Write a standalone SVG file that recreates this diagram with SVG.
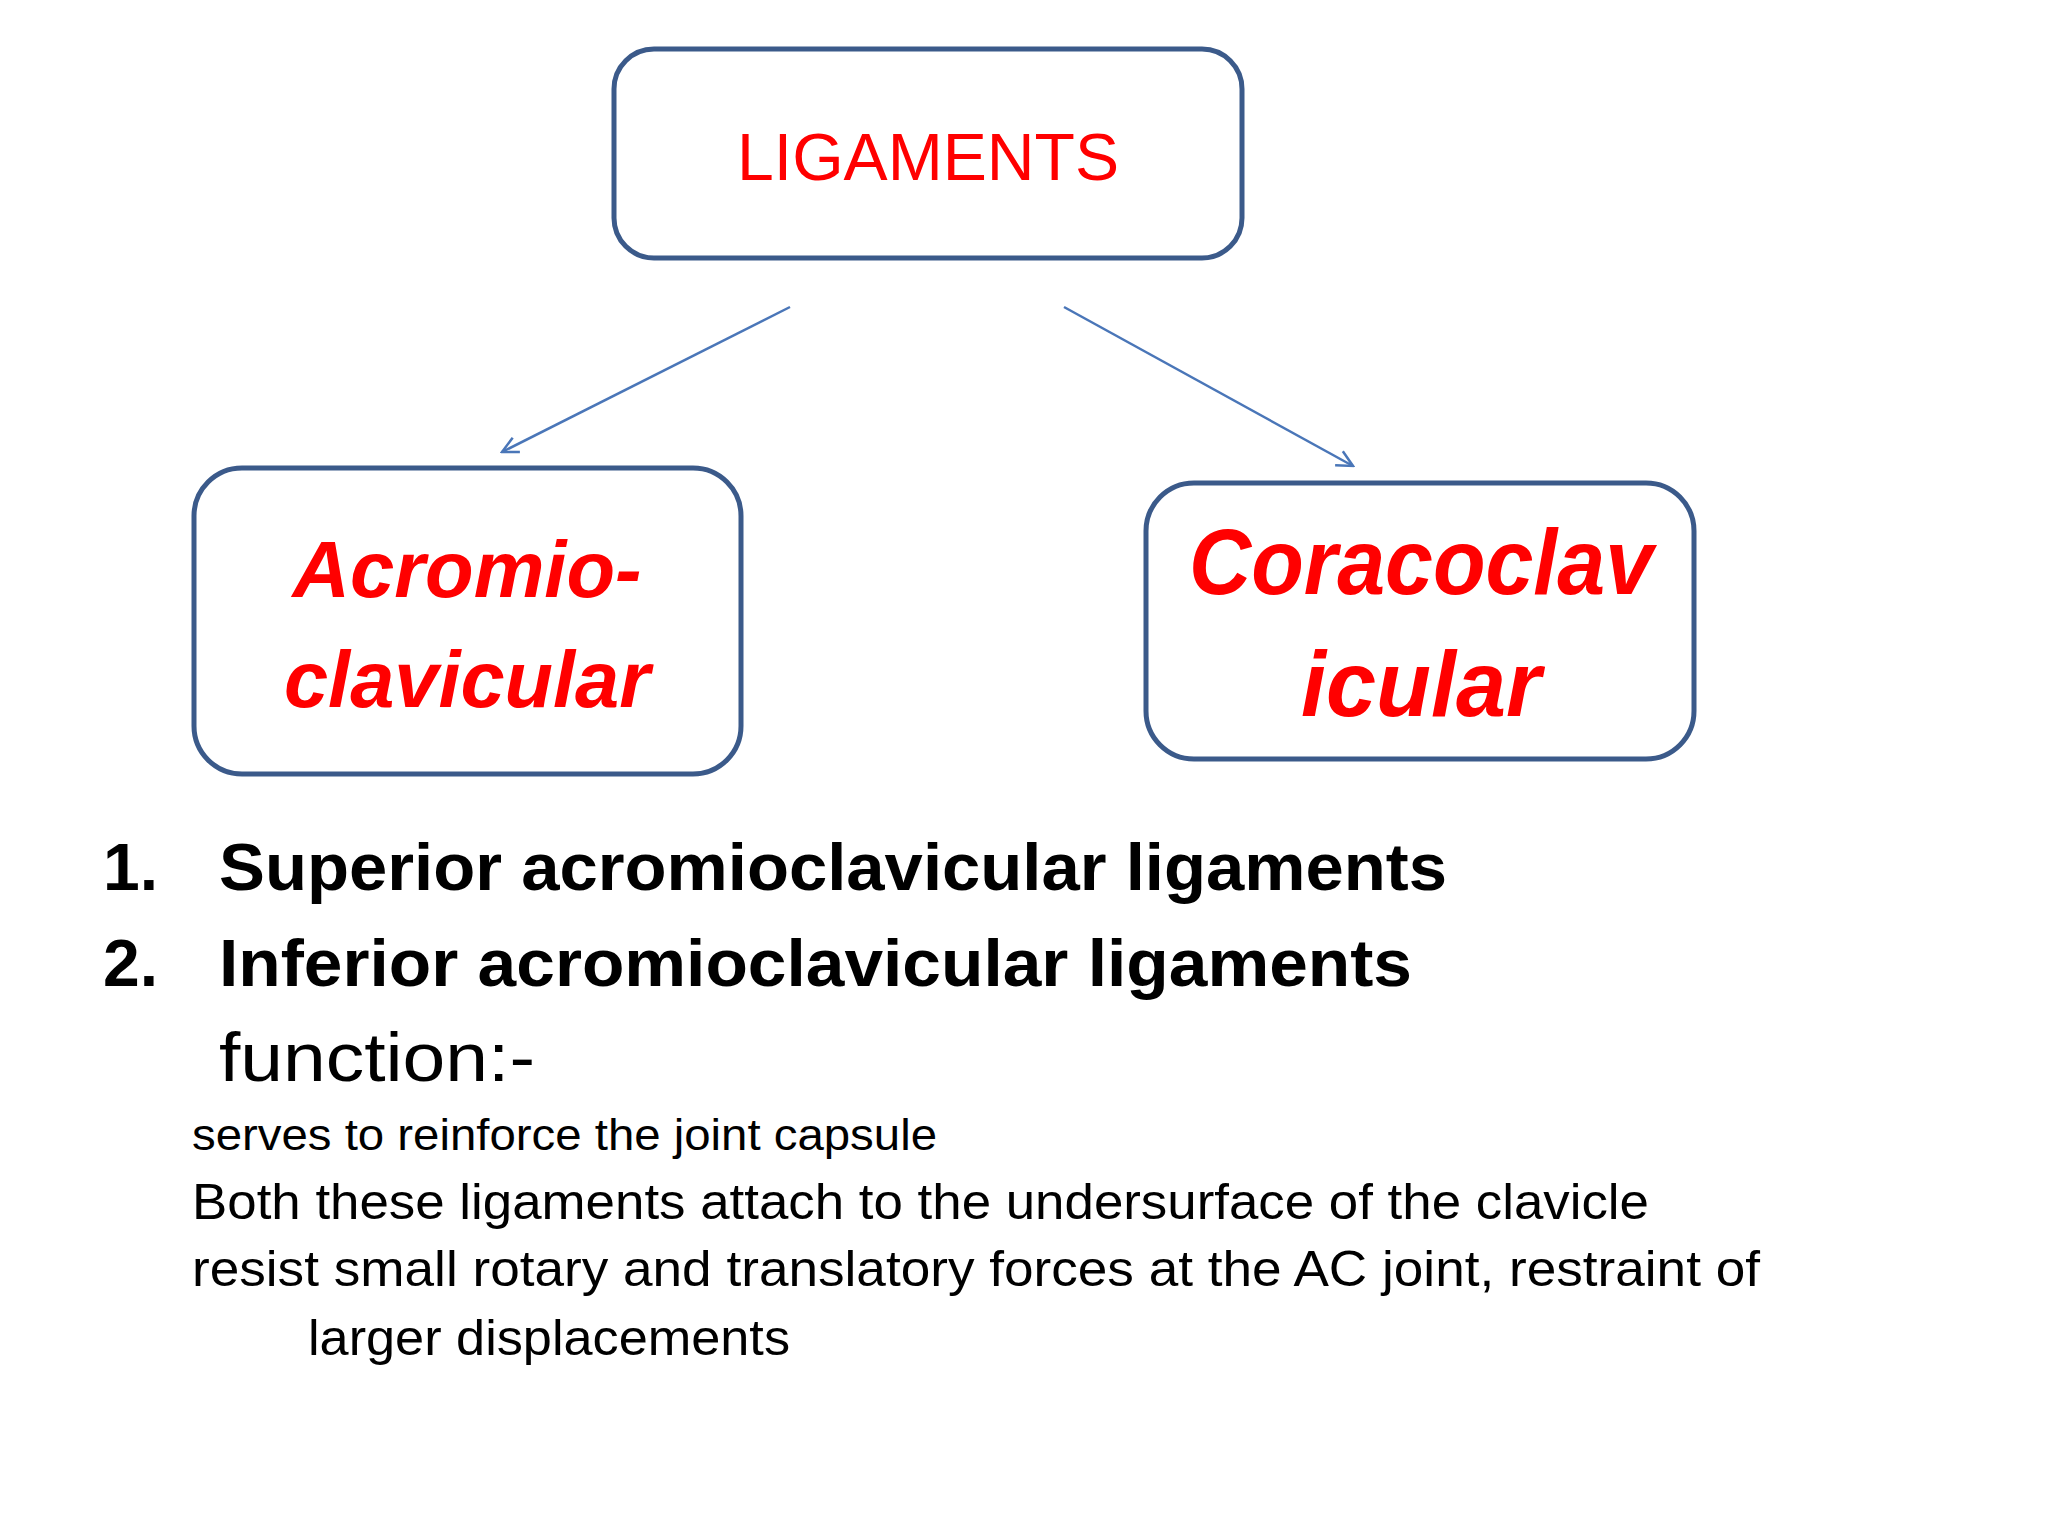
<svg xmlns="http://www.w3.org/2000/svg" width="2048" height="1536" viewBox="0 0 2048 1536">
<defs>
<style>
.box{fill:#fff;stroke:#3b5a8a;stroke-width:5}
.red{fill:#f00;font-family:"Liberation Sans",Arial,sans-serif}
.bi{font-weight:bold;font-style:italic}
.blk{fill:#000;font-family:"Liberation Sans",Arial,sans-serif}
.con{stroke:#4a76b8;stroke-width:2.5;fill:none}
</style>
<marker id="ah" viewBox="0 0 20 20" refX="18" refY="10" markerWidth="20" markerHeight="20" markerUnits="userSpaceOnUse" orient="auto"><path d="M2,2 L18,10 L2,18" fill="none" stroke="#4a76b8" stroke-width="2.5"/></marker>
</defs>
<rect width="2048" height="1536" fill="#fff"/>
<g id="connectors">
<line class="con" x1="790" y1="307" x2="502" y2="452" marker-end="url(#ah)"/>
<line class="con" x1="1064" y1="307" x2="1353" y2="466" marker-end="url(#ah)"/>
</g>
<g id="ligaments">
<rect class="box" x="614" y="49" width="628" height="209" rx="40"/>
<text class="red" x="928" y="180" font-size="66" text-anchor="middle" textLength="382" lengthAdjust="spacingAndGlyphs">LIGAMENTS</text>
</g>
<g id="acromio">
<rect class="box" x="194" y="468" width="547" height="306" rx="48"/>
<text class="red bi" x="467" y="597" font-size="80" text-anchor="middle" textLength="349" lengthAdjust="spacingAndGlyphs">Acromio-</text>
<text class="red bi" x="467" y="707" font-size="80" text-anchor="middle" textLength="366" lengthAdjust="spacingAndGlyphs">clavicular</text>
</g>
<g id="coraco">
<rect class="box" x="1146" y="483" width="548" height="276" rx="48"/>
<text class="red bi" x="1421" y="594" font-size="92" text-anchor="middle" textLength="464" lengthAdjust="spacingAndGlyphs">Coracoclav</text>
<text class="red bi" x="1421" y="716" font-size="92" text-anchor="middle" textLength="240" lengthAdjust="spacingAndGlyphs">icular</text>
</g>
<g id="text">
<text class="blk" x="103" y="890" font-size="66" font-weight="bold">1.</text>
<text class="blk" x="219" y="890" font-size="66" font-weight="bold" textLength="1228" lengthAdjust="spacingAndGlyphs">Superior acromioclavicular ligaments</text>
<text class="blk" x="103" y="986" font-size="66" font-weight="bold">2.</text>
<text class="blk" x="219" y="986" font-size="66" font-weight="bold" textLength="1193" lengthAdjust="spacingAndGlyphs">Inferior acromioclavicular ligaments</text>
<text class="blk" x="219" y="1081" font-size="68" textLength="316" lengthAdjust="spacingAndGlyphs">function:-</text>
<text class="blk" x="192" y="1150" font-size="45" textLength="745" lengthAdjust="spacingAndGlyphs">serves to reinforce the joint capsule</text>
<text class="blk" x="192" y="1219" font-size="50" textLength="1457" lengthAdjust="spacingAndGlyphs">Both these ligaments attach to the undersurface of the clavicle</text>
<text class="blk" x="192" y="1286" font-size="50" textLength="1568" lengthAdjust="spacingAndGlyphs">resist small rotary and translatory forces at the AC joint, restraint of</text>
<text class="blk" x="308" y="1355" font-size="50" textLength="482" lengthAdjust="spacingAndGlyphs">larger displacements</text>
</g>
</svg>
